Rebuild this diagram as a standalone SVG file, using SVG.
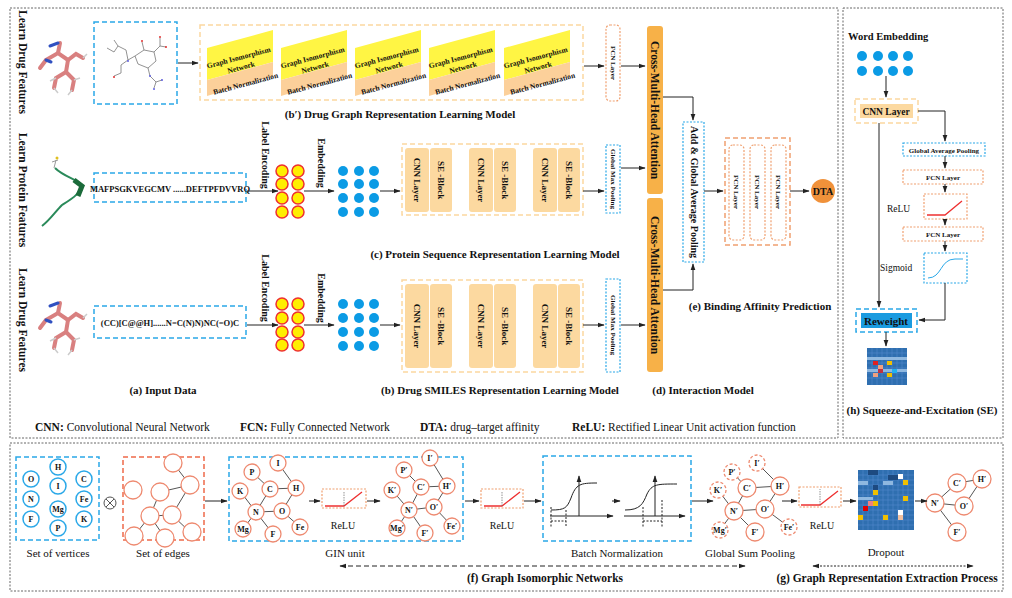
<svg xmlns="http://www.w3.org/2000/svg" xmlns:xlink="http://www.w3.org/1999/xlink" width="1012" height="598" viewBox="0 0 1012 598" font-family="'Liberation Serif','Times New Roman','DejaVu Serif',serif">
<style>
text{font-family:"Liberation Serif","Times New Roman","DejaVu Serif",serif;fill:#111}
.b{font-weight:bold}
.panel{fill:none;stroke:#666;stroke-width:1;stroke-dasharray:2 1.5}
.bd{fill:none;stroke:#2aa8e8;stroke-width:1.5;stroke-dasharray:5 3}
.od{fill:none;stroke:#fbd7a0;stroke-width:1.5;stroke-dasharray:5 3}
.rd{fill:none;stroke:#ee6a4a;stroke-width:1.5;stroke-dasharray:5 3}
.bdot{fill:#fff;stroke:#2aa8e8;stroke-width:1.2;stroke-dasharray:2 1.5}
.odot{fill:#fff;stroke:#f0a070;stroke-width:1.2;stroke-dasharray:2 1.5}
.ln{fill:none;stroke:#222;stroke-width:1}
.blk{fill:#fcd9a0}
.att{fill:#f7b148}
.yc{fill:#ffee00;stroke:#ee3030;stroke-width:1.5}
.bc{fill:#0b9be5}
.vc{fill:#fff;stroke:#2aa8e8;stroke-width:1.5}
.ec{fill:#fff;stroke:#ee8a70;stroke-width:1.3}
.ecd{fill:#fff;stroke:#ee8a70;stroke-width:1.3;stroke-dasharray:3 2}
.gl{stroke:#555;stroke-width:1;fill:none}
.nt{font-size:8px;font-weight:bold;text-anchor:middle}
.relu{fill:none;stroke:#ee3030;stroke-width:1.3}
</style>
<defs>
<marker id="ar" viewBox="0 0 10 10" refX="9" refY="5" markerWidth="7" markerHeight="7" orient="auto-start-reverse"><path d="M0,1.5 L10,5 L0,8.5 z" fill="#222"/></marker>
<g id="gin">
<polygon points="0,18 66,0 66,32 0,50" fill="#fff544"/>
<polygon points="0,50 66,32 66,46 0,66" fill="#fcd09a"/>
<g transform="rotate(-15 33 33)"><text x="33" y="30" font-size="7.5" class="b" text-anchor="middle">Graph  Isomorphism</text><text x="33" y="40" font-size="7.5" class="b" text-anchor="middle">Network</text><text x="33" y="57" font-size="7.5" class="b" text-anchor="middle">Batch Normalization</text></g>
</g>
<g id="yc2"><circle cx="0" cy="0" r="6" class="yc"/><circle cx="16" cy="0" r="6" class="yc"/></g>
<g id="bc3"><circle cx="0" cy="0" r="5" class="bc"/><circle cx="16" cy="0" r="5" class="bc"/><circle cx="31" cy="0" r="5" class="bc"/></g>
<g id="pair">
<rect x="0" y="0" width="24" height="64" rx="3" class="blk"/><rect x="25" y="0" width="22" height="64" rx="3" class="blk"/>
<text transform="translate(9,32) rotate(90)" font-size="9" class="b" text-anchor="middle">CNN Layer</text>
<text transform="translate(33,32) rotate(90)" font-size="9" class="b" text-anchor="middle">SE -Block</text>
</g>
<g id="pair2">
<rect x="0" y="0" width="24" height="84" rx="3" class="blk"/><rect x="25" y="0" width="22" height="84" rx="3" class="blk"/>
<text transform="translate(9,42) rotate(90)" font-size="9" class="b" text-anchor="middle">CNN Layer</text>
<text transform="translate(33,42) rotate(90)" font-size="9" class="b" text-anchor="middle">SE -Block</text>
</g>
<g id="mol">
<g stroke="#d98080" stroke-width="4" stroke-linecap="round" fill="none">
<path d="M8,22 L20,15 L30,22 L38,16 L45,20"/><path d="M20,15 L22,5"/><path d="M30,22 L28,34 L18,40 L16,50"/><path d="M28,34 L36,42 L34,52"/><path d="M8,22 L2,30"/>
</g>
<g stroke="#3050c0" stroke-width="3" stroke-linecap="round"><path d="M12,8 L20,5"/><path d="M8,22 L13,24"/></g>
<g stroke="#ccc" stroke-width="1.5"><path d="M36,42 L42,40 M18,40 L12,43 M16,50 L20,55 M34,52 L30,57 M45,20 L49,16"/></g>
</g>
</defs>

<rect x="10" y="8" width="828" height="430" class="panel"/>
<rect x="843" y="8" width="160" height="430" class="panel"/>
<rect x="10" y="443" width="993" height="148" class="panel"/>

<g id="labels-left">
<text transform="translate(19,62) rotate(90)" font-size="11.5" class="b" text-anchor="middle">Learn Drug Features</text>
<text transform="translate(19,190) rotate(90)" font-size="11.5" class="b" text-anchor="middle">Learn Protein Features</text>
<text transform="translate(19,320) rotate(90)" font-size="11.5" class="b" text-anchor="middle">Learn Drug Features</text>
</g>

<g id="images">
<use xlink:href="#mol" x="38" y="38"/>
<use xlink:href="#mol" x="38" y="298"/>
<g fill="none" stroke="#2a8a5a" stroke-width="2"><path d="M55,168 C62,175 72,178 80,183 C84,192 70,200 62,205 C55,212 50,220 42,226"/></g>
<path d="M74,180 L82,186 L78,196" stroke="#1b6b3a" stroke-width="5" fill="none"/>
<path d="M54,168 L56,160 M52,162 L58,160" stroke="#999" stroke-width="1"/>
<circle cx="57" cy="158" r="1.5" fill="#e0c020"/>
</g>

<g id="drug-graph-input">
<rect x="94" y="22" width="83" height="82" class="bd"/>
<g stroke="#777" stroke-width="0.8" fill="none"><path d="M107,48 L114,52 L118,46 L126,50 L128,60 L121,65 L121,73 L114,76 M128,60 L135,56 L144,50 L154,52 L156,61 L148,68 L138,64 L135,56 M144,50 L142,42 M154,52 L160,46 L160,38 M160,46 L166,47 M118,46 L114,40 M148,68 L150,76 L156,82 M156,82 L154,88 M156,82 L162,80"/></g>
<circle cx="142" cy="41" r="1" fill="#e03030"/><circle cx="166" cy="47" r="1" fill="#e03030"/><circle cx="160" cy="37" r="1" fill="#e03030"/><circle cx="114" cy="77" r="1" fill="#e03030"/>
<circle cx="128" cy="61" r="1" fill="#6060e0"/><circle cx="150" cy="76" r="1" fill="#6060e0"/><circle cx="154" cy="89" r="1" fill="#6060e0"/><circle cx="162" cy="80" r="1" fill="#6060e0"/>
</g>

<g id="gin-stack">
<rect x="200" y="25" width="383" height="75" class="od"/>
<use xlink:href="#gin" x="207" y="30"/>
<use xlink:href="#gin" x="281" y="30"/>
<use xlink:href="#gin" x="355" y="30"/>
<use xlink:href="#gin" x="429" y="30"/>
<use xlink:href="#gin" x="504" y="30"/>
</g>
<g id="fcn-top"><rect x="606" y="25" width="14" height="76" rx="4" class="odot"/><text transform="translate(611,63) rotate(90)" font-size="7" class="b" text-anchor="middle">FCN Layer</text></g>

<g id="attn">
<rect x="647" y="26" width="16" height="168" rx="3" class="att"/>
<rect x="647" y="198" width="16" height="174" rx="3" class="att"/>
<text transform="translate(651,110) rotate(90)" font-size="11.5" class="b" text-anchor="middle">Cross-Multi-Head Attention</text>
<text transform="translate(651,285) rotate(90)" font-size="11.5" class="b" text-anchor="middle">Cross-Multi-Head Attention</text>
</g>

<g id="protein-row">
<rect x="94" y="173" width="152" height="29" class="bd"/>
<text x="170" y="192" font-size="8.5" class="b" text-anchor="middle">MAFPSGKVEGCMV ......DEFTPFDVVRQ</text>
<text transform="translate(262,155) rotate(90)" font-size="10" class="b" text-anchor="middle">Label Encoding</text>
<use xlink:href="#yc2" x="282" y="171"/><use xlink:href="#yc2" x="282" y="184"/><use xlink:href="#yc2" x="282" y="198"/><use xlink:href="#yc2" x="282" y="212"/>
<text transform="translate(318,163) rotate(90)" font-size="10" class="b" text-anchor="middle">Embedding</text>
<use xlink:href="#bc3" x="343" y="171"/><use xlink:href="#bc3" x="343" y="184"/><use xlink:href="#bc3" x="343" y="198"/><use xlink:href="#bc3" x="343" y="212"/>
<rect x="402" y="144" width="181" height="71" class="od"/>
<use xlink:href="#pair" x="405" y="148"/><use xlink:href="#pair" x="469" y="148"/><use xlink:href="#pair" x="533" y="148"/>
<rect x="606" y="145" width="14" height="68" class="bdot"/>
<text transform="translate(611,179) rotate(90)" font-size="7" class="b" text-anchor="middle">Global Max Pooling</text>
</g>

<g id="smiles-row">
<rect x="94" y="306" width="152" height="32" class="bd"/>
<text x="170" y="326" font-size="8.5" class="b" text-anchor="middle">(CC)[C@@H]......N=C(N)N)NC(=O)C</text>
<text transform="translate(262,288) rotate(90)" font-size="10" class="b" text-anchor="middle">Label Encoding</text>
<use xlink:href="#yc2" x="282" y="304"/><use xlink:href="#yc2" x="282" y="318"/><use xlink:href="#yc2" x="282" y="332"/><use xlink:href="#yc2" x="282" y="345"/>
<text transform="translate(318,298) rotate(90)" font-size="10" class="b" text-anchor="middle">Embedding</text>
<use xlink:href="#bc3" x="343" y="304"/><use xlink:href="#bc3" x="343" y="318"/><use xlink:href="#bc3" x="343" y="332"/><use xlink:href="#bc3" x="343" y="346"/>
<rect x="402" y="280" width="181" height="92" class="od"/>
<use xlink:href="#pair2" x="405" y="284"/><use xlink:href="#pair2" x="469" y="284"/><use xlink:href="#pair2" x="533" y="284"/>
<rect x="606" y="279" width="14" height="93" class="bdot"/>
<text transform="translate(611,325) rotate(90)" font-size="7" class="b" text-anchor="middle">Global Max Pooling</text>
</g>

<g id="predict">
<rect x="683" y="122" width="21" height="140" class="bdot"/>
<text transform="translate(691,192) rotate(90)" font-size="10" class="b" text-anchor="middle">Add &amp; Global Average Pooling</text>
<rect x="725" y="138" width="65" height="107" class="rd" style="stroke:#f0a070"/>
<rect x="729" y="145" width="15" height="95" rx="4" class="odot"/><rect x="750" y="145" width="15" height="95" rx="4" class="odot"/><rect x="771" y="145" width="15" height="95" rx="4" class="odot"/>
<text transform="translate(734,192) rotate(90)" font-size="7" class="b" text-anchor="middle">FCN Layer</text>
<text transform="translate(755,192) rotate(90)" font-size="7" class="b" text-anchor="middle">FCN Layer</text>
<text transform="translate(776,192) rotate(90)" font-size="7" class="b" text-anchor="middle">FCN Layer</text>
<circle cx="823" cy="191" r="12" fill="#f0913a"/>
<text x="823" y="195" font-size="10" class="b" text-anchor="middle">DTA</text>
</g>

<g id="connectors">
<path d="M178,63 H198" class="ln" marker-end="url(#ar)"/>
<path d="M584,66 H604" class="ln" marker-end="url(#ar)"/>
<path d="M621,66 H645" class="ln" marker-end="url(#ar)"/>
<path d="M247,191 H278" class="ln" marker-end="url(#ar)"/>
<path d="M304,191 H334" class="ln" marker-end="url(#ar)"/>
<path d="M380,191 H400" class="ln" marker-end="url(#ar)"/>
<path d="M583,191 H604" class="ln" marker-end="url(#ar)"/>
<path d="M621,168 H645" class="ln" marker-end="url(#ar)"/>
<path d="M247,325 H278" class="ln" marker-end="url(#ar)"/>
<path d="M304,325 H334" class="ln" marker-end="url(#ar)"/>
<path d="M380,325 H400" class="ln" marker-end="url(#ar)"/>
<path d="M583,325 H604" class="ln" marker-end="url(#ar)"/>
<path d="M621,325 H645" class="ln" marker-end="url(#ar)"/>
<path d="M663,97 H693 V120" class="ln" marker-end="url(#ar)"/>
<path d="M663,290 H693 V264" class="ln" marker-end="url(#ar)"/>
<path d="M704,191 H723" class="ln" marker-end="url(#ar)"/>
<path d="M790,191 H809" class="ln" marker-end="url(#ar)"/>
</g>

<g id="captions">
<text x="400" y="118" font-size="11" class="b" text-anchor="middle">(b′) Drug Graph Representation Learning Model</text>
<text x="495" y="258" font-size="11" class="b" text-anchor="middle">(c) Protein Sequence Representation Learning Model</text>
<text x="163" y="394" font-size="11" class="b" text-anchor="middle">(a) Input Data</text>
<text x="500" y="394" font-size="11" class="b" text-anchor="middle">(b) Drug SMILES Representation Learning Model</text>
<text x="703" y="394" font-size="11" class="b" text-anchor="middle">(d) Interaction Model</text>
<text x="760" y="310" font-size="11" class="b" text-anchor="middle">(e) Binding Affinity Prediction</text>
<text x="35" y="431" font-size="11.5"><tspan class="b">CNN:</tspan> Convolutional Neural Network</text>
<text x="240" y="431" font-size="11.5"><tspan class="b">FCN:</tspan> Fully Connected Network</text>
<text x="420" y="431" font-size="11.5"><tspan class="b">DTA:</tspan> drug–target affinity</text>
<text x="572" y="431" font-size="11.5"><tspan class="b">ReLU:</tspan> Rectified Linear Unit activation function</text>
</g>

<g id="se-panel">
<text x="848" y="40" font-size="10.5" class="b">Word Embedding</text>
<g class="bc"><circle cx="862" cy="56" r="5"/><circle cx="878" cy="56" r="5"/><circle cx="893" cy="56" r="5"/><circle cx="908" cy="56" r="5"/><circle cx="862" cy="71" r="5"/><circle cx="878" cy="71" r="5"/><circle cx="893" cy="71" r="5"/><circle cx="908" cy="71" r="5"/></g>
<rect x="855" y="99" width="63" height="24" class="od"/>
<rect x="860" y="104" width="53" height="14" class="blk"/>
<text x="886" y="115" font-size="9.5" class="b" text-anchor="middle">CNN Layer</text>
<rect x="903" y="143" width="82" height="13" class="bdot"/>
<text x="944" y="153" font-size="7" class="b" text-anchor="middle">Global Average Pooling</text>
<rect x="903" y="170" width="80" height="14" class="odot"/>
<text x="943" y="180" font-size="7" class="b" text-anchor="middle">FCN Layer</text>
<rect x="924" y="194" width="43" height="25" class="odot"/>
<path d="M927,215 H945 L962,201" class="relu"/>
<text x="887" y="212" font-size="9.5">ReLU</text>
<rect x="903" y="227" width="80" height="14" class="odot"/>
<text x="943" y="237" font-size="7" class="b" text-anchor="middle">FCN Layer</text>
<rect x="924" y="253" width="43" height="30" class="bdot"/>
<path d="M928,278 C942,278 940,259 955,259 H963" fill="none" stroke="#2aa8e8" stroke-width="1"/>
<text x="880" y="271" font-size="9.5">Sigmoid</text>
<rect x="856" y="309" width="61" height="23" class="bd"/>
<rect x="861" y="313" width="51" height="15" fill="#1a9be0"/>
<text x="886" y="325" font-size="11" class="b" text-anchor="middle">Reweight</text>
<g id="se-grid">
<rect x="867" y="348" width="40" height="37" fill="#2f6fb0"/>
<g stroke="#5a8fd0" stroke-width="0.5"><path d="M867,353H907M867,358H907M867,363H907M867,368H907M867,373H907M867,378H907M872,348V385M877,348V385M882,348V385M887,348V385M892,348V385M897,348V385M902,348V385"/></g>
<rect x="867" y="357" width="40" height="3" fill="#8fb8e0"/><rect x="867" y="369" width="40" height="3" fill="#8fb8e0"/>
<rect x="873" y="361" width="5" height="4" fill="#e02020"/><rect x="878" y="365" width="5" height="4" fill="#f0a080"/><rect x="878" y="369" width="5" height="4" fill="#c03040"/><rect x="887" y="361" width="5" height="4" fill="#f0c000"/><rect x="873" y="373" width="5" height="4" fill="#f0a080"/><rect x="887" y="373" width="5" height="4" fill="#f0c000"/><rect x="892" y="369" width="5" height="4" fill="#20b0f0"/>
</g>
<text x="922" y="414" font-size="11" class="b" text-anchor="middle">(h) Squeeze-and-Excitation (SE)</text>
<path d="M886,76 V97" class="ln" marker-end="url(#ar)"/>
<path d="M918,111 H945 V141" class="ln" marker-end="url(#ar)"/>
<path d="M945,156 V168" class="ln" marker-end="url(#ar)"/>
<path d="M945,184 V192" class="ln" marker-end="url(#ar)"/>
<path d="M945,219 V225" class="ln" marker-end="url(#ar)"/>
<path d="M945,241 V251" class="ln" marker-end="url(#ar)"/>
<path d="M945,283 V320 H919" class="ln" marker-end="url(#ar)"/>
<path d="M879,123 V307" class="ln" marker-end="url(#ar)"/>
<path d="M886,332 V346" class="ln" marker-end="url(#ar)"/>
</g>

<g id="vertices">
<rect x="16" y="457" width="83" height="83" class="bd"/>
<g class="vc"><circle cx="31" cy="479" r="8"/><circle cx="31" cy="499" r="8"/><circle cx="31" cy="519" r="8"/><circle cx="58" cy="467" r="8"/><circle cx="58" cy="486" r="8"/><circle cx="58" cy="509" r="8"/><circle cx="58" cy="528" r="8"/><circle cx="84" cy="479" r="8"/><circle cx="84" cy="499" r="8"/><circle cx="84" cy="519" r="8"/></g>
<text x="31" y="482" class="nt">O</text><text x="31" y="502" class="nt">N</text><text x="31" y="522" class="nt">F</text><text x="58" y="470" class="nt">H</text><text x="58" y="489" class="nt">I</text><text x="58" y="512" class="nt">Mg</text><text x="58" y="531" class="nt">P</text><text x="84" y="482" class="nt">C</text><text x="84" y="502" class="nt">Fe</text><text x="84" y="522" class="nt">K</text>
<circle cx="110" cy="503" r="6" fill="none" stroke="#555"/><path d="M106,499 L114,507 M114,499 L106,507" stroke="#555"/>
<text x="58" y="557" font-size="11" text-anchor="middle">Set of vertices</text>
</g>

<g id="edges">
<rect x="123" y="457" width="81" height="83" class="rd"/>
<g class="gl"><path d="M150,516 L134,536 M150,516 L165,538 M150,516 L160,492 M150,516 L172,515 M160,492 L190,485 M172,515 L190,485 M172,515 L190,532 M190,485 L173,463"/></g>
<g class="ec"><circle cx="133" cy="490" r="9"/><circle cx="173" cy="463" r="9"/><circle cx="160" cy="492" r="9"/><circle cx="190" cy="485" r="9"/><circle cx="150" cy="516" r="9"/><circle cx="172" cy="515" r="9"/><circle cx="134" cy="536" r="9"/><circle cx="165" cy="538" r="9"/><circle cx="192" cy="532" r="9"/></g>
<text x="163" y="557" font-size="11" text-anchor="middle">Set of edges</text>
</g>

<g id="gin-unit">
<rect x="229" y="457" width="234" height="84" class="bd"/>
<g class="gl"><path d="M256,512 L243,529 M256,512 L273,534 M256,512 L240,491 M256,512 L270,489 M256,512 L282,511 M270,489 L252,472 M270,489 L296,488 M296,488 L278,463 M296,488 L282,511 M282,511 L300,527"/></g>
<g class="ec"><circle cx="252" cy="472" r="8"/><circle cx="278" cy="463" r="8"/><circle cx="240" cy="491" r="8"/><circle cx="270" cy="489" r="8"/><circle cx="296" cy="488" r="8"/><circle cx="256" cy="512" r="8"/><circle cx="282" cy="511" r="8"/><circle cx="243" cy="529" r="8"/><circle cx="273" cy="534" r="8"/><circle cx="300" cy="527" r="8"/></g>
<text x="252" y="475" class="nt">P</text><text x="278" y="466" class="nt">I</text><text x="240" y="494" class="nt">K</text><text x="270" y="492" class="nt">C</text><text x="296" y="491" class="nt">H</text><text x="256" y="515" class="nt">N</text><text x="282" y="514" class="nt">O</text><text x="243" y="532" class="nt">Mg</text><text x="273" y="537" class="nt">F</text><text x="300" y="530" class="nt">Fe</text>
<rect x="322" y="489" width="44" height="19" class="odot"/>
<path d="M325,506 H344 L362,492" class="relu"/><path d="M344,506 V491" stroke="#666" stroke-width="0.7" stroke-dasharray="1.5 1"/>
<text x="343" y="529" font-size="10" text-anchor="middle">ReLU</text>
<g class="gl"><path d="M409,510 L397,528 M409,510 L425,533 M409,510 L392,490 M409,510 L421,487 M409,510 L434,507 M421,487 L404,470 M421,487 L447,486 M447,486 L430,458 M447,486 L434,507 M434,507 L452,526"/></g>
<g class="ec"><circle cx="404" cy="470" r="8"/><circle cx="430" cy="458" r="8"/><circle cx="392" cy="490" r="8"/><circle cx="421" cy="487" r="8"/><circle cx="447" cy="486" r="8"/><circle cx="409" cy="510" r="8"/><circle cx="434" cy="507" r="8"/><circle cx="397" cy="528" r="8"/><circle cx="425" cy="533" r="8"/><circle cx="452" cy="526" r="8"/></g>
<text x="404" y="473" class="nt">P′</text><text x="430" y="461" class="nt">I′</text><text x="392" y="493" class="nt">K′</text><text x="421" y="490" class="nt">C′</text><text x="447" y="489" class="nt">H′</text><text x="409" y="513" class="nt">N′</text><text x="434" y="510" class="nt">O′</text><text x="397" y="531" class="nt">Mg′</text><text x="425" y="536" class="nt">F′</text><text x="452" y="529" class="nt">Fe′</text>
<text x="345" y="557" font-size="11" text-anchor="middle">GIN unit</text>
</g>

<g id="relu2">
<rect x="481" y="489" width="42" height="19" class="odot"/>
<path d="M484,506 H502 L520,492" class="relu"/><path d="M502,506 V491" stroke="#666" stroke-width="0.7" stroke-dasharray="1.5 1"/>
<text x="502" y="529" font-size="10" text-anchor="middle">ReLU</text>
</g>

<g id="batchnorm">
<rect x="543" y="456" width="148" height="85" class="bd"/>
<g class="ln"><path d="M550,516 H613" marker-end="url(#ar)"/><path d="M579,516 V476" marker-end="url(#ar)"/><path d="M551,510 C565,510 567,508 571,498 C576,484 580,483 597,483"/>
<path d="M551,507 V527 M566,510 V527 M551,521 H566" stroke-dasharray="2 1.5"/>
<path d="M624,516 H685" marker-end="url(#ar)"/><path d="M655,516 V476" marker-end="url(#ar)"/><path d="M625,510 C640,510 643,504 647,494 C652,484 657,484 677,484"/>
<path d="M643,507 V527 M662,500 V527 M643,521 H662" stroke-dasharray="2 1.5"/>
</g>
<path d="M612,501 H620" class="ln" marker-end="url(#ar)"/>
<text x="617" y="557" font-size="11" text-anchor="middle">Batch Normalization</text>
</g>

<g id="sumpool">
<g class="gl"><path d="M734,511 L720,530 M734,511 L755,532 M734,511 L718,490 M734,511 L747,488 M734,511 L765,509 M747,488 L732,472 M747,488 L780,486 M780,486 L757,463 M765,509 L789,527 M765,509 L780,486"/></g>
<g class="ec"><circle cx="747" cy="488" r="9"/><circle cx="780" cy="486" r="9"/><circle cx="734" cy="511" r="9"/><circle cx="765" cy="509" r="9"/><circle cx="755" cy="532" r="9"/></g>
<g class="ecd"><circle cx="732" cy="472" r="8"/><circle cx="757" cy="463" r="8"/><circle cx="718" cy="490" r="8"/><circle cx="720" cy="530" r="8"/><circle cx="789" cy="527" r="8"/></g>
<text x="732" y="475" class="nt">P′</text><text x="757" y="466" class="nt">I′</text><text x="718" y="493" class="nt">K′</text><text x="747" y="491" class="nt">C′</text><text x="780" y="489" class="nt">H′</text><text x="734" y="514" class="nt">N′</text><text x="765" y="512" class="nt">O′</text><text x="720" y="533" class="nt">Mg′</text><text x="755" y="535" class="nt">F′</text><text x="789" y="530" class="nt">Fe′</text>
<text x="750" y="557" font-size="11" text-anchor="middle">Global Sum Pooling</text>
</g>

<g id="relu3">
<rect x="799" y="487" width="42" height="20" class="odot"/>
<path d="M801,505 H820 L838,491" class="relu"/><path d="M820,505 V489" stroke="#666" stroke-width="0.7" stroke-dasharray="1.5 1"/>
<text x="822" y="529" font-size="10" text-anchor="middle">ReLU</text>
</g>

<g id="dropout">
<rect x="858" y="470" width="56" height="60" fill="#2f6fb0"/>
<g stroke="#5a8fd0" stroke-width="0.5"><path d="M858,475H914M858,480H914M858,485H914M858,490H914M858,495H914M858,500H914M858,505H914M858,510H914M858,515H914M858,520H914M858,525H914M863,470V530M868,470V530M873,470V530M878,470V530M883,470V530M888,470V530M893,470V530M898,470V530M903,470V530M908,470V530"/></g>
<rect x="868" y="470" width="10" height="5" fill="#1d4a80"/><rect x="888" y="475" width="10" height="5" fill="#1d4a80"/><rect x="873" y="485" width="5" height="5" fill="#1d4a80"/>
<rect x="858" y="481" width="10" height="4" fill="#8fb8e0"/><rect x="883" y="481" width="10" height="4" fill="#8fb8e0"/><rect x="858" y="497" width="15" height="3" fill="#8fb8e0"/>
<rect x="898" y="474" width="5" height="5" fill="#fff"/><rect x="903" y="480" width="5" height="5" fill="#f0c000"/><rect x="873" y="490" width="5" height="5" fill="#f0c000"/><rect x="903" y="496" width="5" height="5" fill="#f0c000"/><rect x="868" y="501" width="5" height="5" fill="#f08080"/><rect x="873" y="501" width="5" height="5" fill="#f0c000"/><rect x="863" y="506" width="5" height="5" fill="#e00000"/><rect x="898" y="510" width="5" height="5" fill="#fff"/><rect x="858" y="515" width="5" height="5" fill="#f0c000"/><rect x="883" y="515" width="5" height="5" fill="#f0c000"/><rect x="898" y="515" width="5" height="5" fill="#f0c0a0"/>
<text x="886" y="556" font-size="11" text-anchor="middle">Dropout</text>
</g>

<g id="final-graph">
<g class="gl"><path d="M935,503 L957,483 L982,479 L964,506 L935,503 L957,532"/></g>
<g class="ec"><circle cx="957" cy="483" r="9"/><circle cx="982" cy="479" r="9"/><circle cx="935" cy="503" r="9"/><circle cx="964" cy="506" r="9"/><circle cx="957" cy="532" r="9"/></g>
<text x="957" y="486" class="nt">C′</text><text x="982" y="482" class="nt">H′</text><text x="935" y="506" class="nt">N′</text><text x="964" y="509" class="nt">O′</text><text x="957" y="535" class="nt">F′</text>
</g>

<g id="bottom-connectors">
<path d="M205,501 H227" class="ln" marker-end="url(#ar)"/>
<path d="M309,501 H320" class="ln" marker-end="url(#ar)"/>
<path d="M367,501 H380" class="ln" marker-end="url(#ar)"/>
<path d="M465,501 H479" class="ln" marker-end="url(#ar)"/>
<path d="M524,501 H541" class="ln" marker-end="url(#ar)"/>
<path d="M692,501 H713" class="ln" marker-end="url(#ar)"/>
<path d="M782,501 H797" class="ln" marker-end="url(#ar)"/>
<path d="M843,501 H856" class="ln" marker-end="url(#ar)"/>
<path d="M915,501 H927" class="ln" marker-end="url(#ar)"/>
<path d="M340,566 H745" class="ln" stroke-dasharray="5 3" marker-start="url(#ar)" marker-end="url(#ar)"/>
<path d="M813,566 H973" class="ln" stroke-dasharray="2 1.5" marker-start="url(#ar)" marker-end="url(#ar)"/>
<text x="545" y="582" font-size="11.5" class="b" text-anchor="middle">(f) Graph Isomorphic Networks</text>
<text x="887" y="582" font-size="11.5" class="b" text-anchor="middle">(g) Graph Representation  Extraction Process</text>
</g>
</svg>
